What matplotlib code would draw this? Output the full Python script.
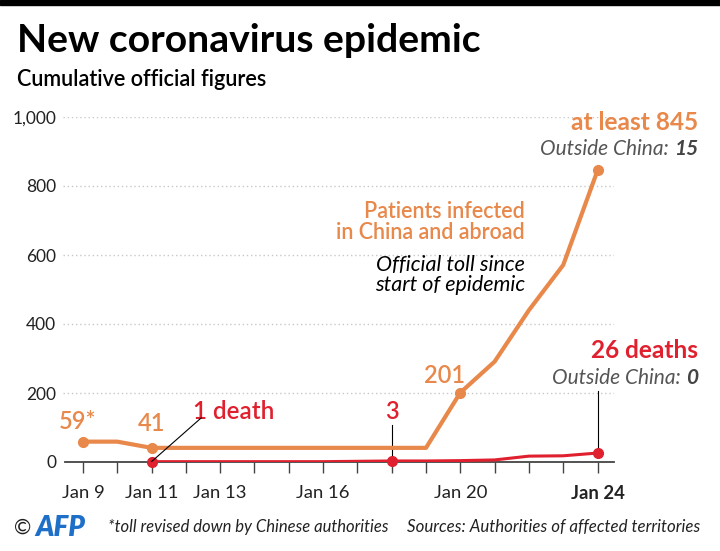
import numpy as np
import matplotlib.pyplot as plt
from matplotlib.patches import Rectangle

plt.rcParams['font.family'] = ['Lato', 'DejaVu Sans']

# Data (January 2020, cumulative)
inf_days = [9, 10, 11, 12, 13, 14, 15, 16, 17, 18, 19, 20, 21, 22, 23, 24]
infected = [59, 59, 41, 41, 41, 41, 41, 41, 41, 41, 41, 201, 291, 440, 571, 845]
death_days = [11, 12, 13, 14, 15, 16, 17, 18, 19, 20, 21, 22, 23, 24]
deaths = [1, 1, 1, 1, 1, 1, 2, 3, 3, 4, 6, 17, 18, 26]
inf_marked = [9, 11, 20, 24]
death_marked = [11, 18, 24]
tick_days = [9, 11, 13, 16, 20, 24]
tick_labels = ["Jan 9", "Jan 11", "Jan 13", "Jan 16", "Jan 20", "Jan 24"]
yticks = [0, 200, 400, 600, 800, 1000]

ORANGE = "#E8884A"
RED = "#E0202E"
GREY = "#555555"
W, H = 720, 551


def px(x, y):
    return x / W, 1 - y / H


fig = plt.figure(figsize=(7.2, 5.51), dpi=100)
fig.patches.append(Rectangle((0, 1 - 5 / H), 1, 5 / H, transform=fig.transFigure,
                             color="black", zorder=10))

# axes: x pixels 63..614, y pixels 117 (1000) .. 462 (0)
l, b = px(63, 462)
r, t = px(614, 117)
ax = fig.add_axes([l, b, r - l, t - b])
ax.set_xlim(8.42, 24.48)
ax.set_ylim(0, 1000)
for s in ax.spines.values():
    s.set_visible(False)
ax.set_facecolor("none")

# grid
for v in yticks[1:]:
    ax.axhline(v, color="#c8c8c8", lw=1, ls=(0, (1, 2)), zorder=0)
ax.plot([8.47, 24.48], [0, 0], color="#444444", lw=1.3, clip_on=False, zorder=1)

ax.set_yticks(yticks)
ax.set_yticklabels([f"{v:,}" for v in yticks], fontsize=12.5, color="#222222")
ax.tick_params(axis="y", length=0, pad=5)
ax.set_xticks(range(9, 25))
ax.set_xticklabels(["" for _ in range(9, 25)])
ax.tick_params(axis="x", direction="out", length=8, width=1, color="#444444")
for d, lab in zip(tick_days, tick_labels):
    ax.annotate(lab, xy=(d, 0), xytext=(0, -22.5), textcoords="offset points",
                ha="center", va="center", fontsize=13.3, color="#222222",
                fontweight="bold" if d == 24 else "normal", annotation_clip=False)

# lines
ax.plot(inf_days, infected, color=ORANGE, lw=3, solid_capstyle="butt", zorder=3)
ax.plot(death_days, deaths, color=RED, lw=2.2, zorder=4)
inf_map = dict(zip(inf_days, infected))
death_map = dict(zip(death_days, deaths))
ax.plot(inf_marked, [inf_map[d] for d in inf_marked], "o", color=ORANGE, ms=7, zorder=5)
ax.plot(death_marked, [death_map[d] for d in death_marked], "o", color=RED, ms=7,
        zorder=6, clip_on=False)

# point labels
ax.text(8.85, 116, "59*", color=ORANGE, fontsize=17, fontweight="semibold",
        ha="center", va="center")
ax.text(11.0, 113, "41", color=ORANGE, fontsize=17, fontweight="semibold",
        ha="center", va="center")
ax.text(19.53, 250, "201", color=ORANGE, fontsize=17, fontweight="semibold",
        ha="center", va="center")
ax.text(18.0, 145, "3", color=RED, fontsize=17, fontweight="semibold",
        ha="center", va="center")
ax.text(12.22, 145, "1 death", color=RED, fontsize=17.5, fontweight="semibold",
        ha="left", va="center")
ax.plot([11, 12.45], [death_map[11], 128], color="black", lw=0.8, zorder=7)
ax.plot([18, 18], [death_map[18], 107], color="black", lw=0.8, zorder=2)
ax.plot([24, 24], [death_map[24], 205], color="black", lw=0.8, zorder=2)

# right annotations
fig.text(*px(698, 122), "at least 845", color=ORANGE, fontsize=17.6,
         fontweight="bold", ha="right", va="center")
t15 = fig.text(*px(698, 149), "15", color="#444444", fontsize=15,
               fontweight="bold", style="italic", ha="right", va="center")
ax.annotate("Outside China: ", xy=(0, 0.5), xycoords=t15, ha="right", va="center",
            fontsize=15, style="italic", color=GREY, annotation_clip=False)
fig.text(*px(698, 351), "26 deaths", color=RED, fontsize=17.6,
         fontweight="bold", ha="right", va="center")
t0 = fig.text(*px(698, 378), "0", color="#444444", fontsize=15,
              fontweight="bold", style="italic", ha="right", va="center")
ax.annotate("Outside China: ", xy=(0, 0.5), xycoords=t0, ha="right", va="center",
            fontsize=15, style="italic", color=GREY, annotation_clip=False)

fig.text(*px(525, 222), "Patients infected\nin China and abroad", color=ORANGE,
         fontsize=15.5, fontweight="semibold", ha="right", va="center", linespacing=1.0)
fig.text(*px(525, 275), "Official toll since\nstart of epidemic", color="black",
         fontsize=15.5, style="italic", ha="right", va="center", linespacing=1.0)

# titles
fig.text(*px(17, 40), "New coronavirus epidemic", fontsize=28.2, fontweight="bold",
         ha="left", va="center", color="black")
fig.text(*px(17, 80), "Cumulative official figures", fontsize=15.6, fontweight="semibold",
         ha="left", va="center", color="black")

# footer
fig.text(*px(14, 528), "©", fontsize=15, ha="left", va="center", color="#222222")
fig.text(*px(35, 528), "AFP", fontsize=20, fontweight="heavy", style="italic",
         ha="left", va="center", color="#1E6FC8")
fig.text(*px(108, 527), "*toll revised down by Chinese authorities", fontsize=12,
         style="italic", ha="left", va="center", color="#222222")
fig.text(*px(700, 527), "Sources: Authorities of affected territories", fontsize=12.2,
         style="italic", ha="right", va="center", color="#222222")

fig.savefig("out.png", dpi=100)
